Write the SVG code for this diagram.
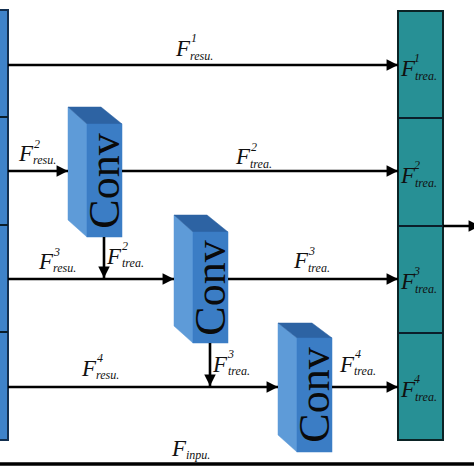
<svg xmlns="http://www.w3.org/2000/svg" width="474" height="474" viewBox="0 0 474 474">
<defs>
<style>
.F{font-family:"Liberation Serif",serif;font-style:italic;font-size:23px;fill:#111}
.sp{font-family:"Liberation Serif",serif;font-style:italic;font-size:12px;fill:#111}
.sb{font-family:"Liberation Serif",serif;font-style:italic;font-size:12px;fill:#111}
.ln{stroke:#000;stroke-width:2.6;fill:none}
.conv{font-family:"Liberation Serif",serif;font-size:44px;fill:#0a0a0a}
.top{fill:#2d63a3;stroke:#2d63a3;stroke-width:0.5}
.side{fill:#5e9bd8;stroke:#5e9bd8;stroke-width:0.5}
.front{fill:#3b7dc5;stroke:#3b7dc5;stroke-width:0.5}
.col{fill:#3f83c9;stroke:#132f4f;stroke-width:2}
.teal{fill:#279095;stroke:#0b2325;stroke-width:2}
.div{stroke:#0b1e2a;stroke-width:2}
</style>
<marker id="ah" viewBox="0 0 10 10" refX="10" refY="5" markerWidth="4.6" markerHeight="4.4" orient="auto" markerUnits="strokeWidth">
<path d="M0,0 L10,5 L0,10 z" fill="#000"/>
</marker>
</defs>

<g id="input-column">
<rect class="col" x="-3" y="10" width="11" height="430"/>
<line class="div" x1="-3" y1="117" x2="8" y2="117"/>
<line class="div" x1="-3" y1="225" x2="8" y2="225"/>
<line class="div" x1="-3" y1="332" x2="8" y2="332"/>
</g>

<g id="output-column">
<rect class="teal" x="398" y="11" width="45" height="429"/>
<line class="div" x1="398" y1="118" x2="443" y2="118"/>
<line class="div" x1="398" y1="226" x2="443" y2="226"/>
<line class="div" x1="398" y1="333" x2="443" y2="333"/>
<g id="out1"><text class="F" x="401" y="76">F</text><text class="sp" x="414" y="62">1</text><text class="sb" x="415" y="80">trea.</text></g>
<g id="out2"><text class="F" x="401" y="183">F</text><text class="sp" x="414" y="169">2</text><text class="sb" x="415" y="187">trea.</text></g>
<g id="out3"><text class="F" x="401" y="289">F</text><text class="sp" x="414" y="275">3</text><text class="sb" x="415" y="293">trea.</text></g>
<g id="out4"><text class="F" x="401" y="397">F</text><text class="sp" x="414" y="383">4</text><text class="sb" x="415" y="401">trea.</text></g>
</g>

<g id="conv1">
<polygon class="side" points="68,107 87,124 87,237 68,220"/>
<polygon class="top" points="68,107 101,107 122,124 87,124"/>
<rect class="front" x="87" y="124" width="35" height="113"/>
<text class="conv" transform="translate(119,181) rotate(-90)" text-anchor="middle">Conv</text>
</g>

<g id="conv2">
<polygon class="side" points="174,215 193,232 193,343 174,326"/>
<polygon class="top" points="174,215 207,215 228,232 193,232"/>
<rect class="front" x="193" y="232" width="35" height="111"/>
<text class="conv" transform="translate(225,288) rotate(-90)" text-anchor="middle">Conv</text>
</g>

<g id="conv3">
<polygon class="side" points="278,323 297,338 297,452 278,435"/>
<polygon class="top" points="278,323 312,323 332,338 297,338"/>
<rect class="front" x="297" y="338" width="35" height="114"/>
<text class="conv" transform="translate(329,395) rotate(-90)" text-anchor="middle">Conv</text>
</g>

<g id="connectors">
<line class="ln" x1="8" y1="65" x2="398" y2="65" marker-end="url(#ah)"/>
<line class="ln" x1="8" y1="171" x2="68" y2="171" marker-end="url(#ah)"/>
<line class="ln" x1="122" y1="171" x2="398" y2="171" marker-end="url(#ah)"/>
<line class="ln" x1="8" y1="279" x2="174" y2="279" marker-end="url(#ah)"/>
<line class="ln" x1="228" y1="279" x2="398" y2="279" marker-end="url(#ah)"/>
<line class="ln" x1="8" y1="387" x2="278" y2="387" marker-end="url(#ah)"/>
<line class="ln" x1="332" y1="387" x2="398" y2="387" marker-end="url(#ah)"/>
<line class="ln" x1="104" y1="237" x2="104" y2="278" marker-end="url(#ah)"/>
<line class="ln" x1="210" y1="343" x2="210" y2="386" marker-end="url(#ah)"/>
<line class="ln" x1="443" y1="226" x2="480" y2="226" marker-end="url(#ah)"/>
<line x1="0" y1="464" x2="474" y2="464" stroke="#000" stroke-width="3.4"/>
</g>

<g id="labels">
<g><text class="F" x="176" y="56">F</text><text class="sp" x="191" y="42">1</text><text class="sb" x="190" y="60">resu.</text></g>
<g><text class="F" x="19" y="161">F</text><text class="sp" x="34" y="148">2</text><text class="sb" x="33" y="164">resu.</text></g>
<g><text class="F" x="236" y="164">F</text><text class="sp" x="251" y="151">2</text><text class="sb" x="250" y="168">trea.</text></g>
<g><text class="F" x="107" y="264">F</text><text class="sp" x="122" y="250">2</text><text class="sb" x="122" y="267">trea.</text></g>
<g><text class="F" x="39" y="269">F</text><text class="sp" x="54" y="256">3</text><text class="sb" x="53" y="272">resu.</text></g>
<g><text class="F" x="294" y="268">F</text><text class="sp" x="309" y="255">3</text><text class="sb" x="308" y="272">trea.</text></g>
<g><text class="F" x="213" y="372">F</text><text class="sp" x="228" y="358">3</text><text class="sb" x="228" y="375">trea.</text></g>
<g><text class="F" x="82" y="376">F</text><text class="sp" x="97" y="362">4</text><text class="sb" x="96" y="379">resu.</text></g>
<g><text class="F" x="340" y="372">F</text><text class="sp" x="355" y="358">4</text><text class="sb" x="354" y="375">trea.</text></g>
<g><text class="F" x="172" y="456">F</text><text class="sb" x="186" y="459">inpu.</text></g>
</g>
</svg>
